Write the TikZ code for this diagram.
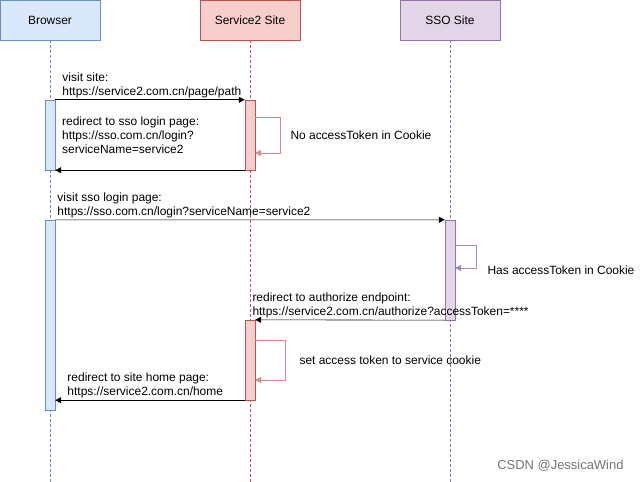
\documentclass[tikz,border=0pt]{standalone}
\usepackage{fontspec}
\setmainfont{Liberation Sans}
\usetikzlibrary{arrows.meta}
\definecolor{bfill}{HTML}{DAE8FC}\definecolor{bdraw}{HTML}{6C8EBF}
\definecolor{rfill}{HTML}{F8CECC}\definecolor{rdraw}{HTML}{B85450}
\definecolor{pfill}{HTML}{E1D5E7}\definecolor{pdraw}{HTML}{9673A6}
\definecolor{rloop}{HTML}{D98A88}\definecolor{ploop}{HTML}{A68BB8}
\begin{document}
\begin{tikzpicture}[x=1bp,y=-1bp,font=\fontsize{12}{14}\selectfont,
 head/.style={draw,minimum width=100bp,minimum height=40bp,inner sep=0},
 bar/.style={draw,minimum width=10bp,inner sep=0},
 life/.style={densely dashed,line width=0.5pt},
 msg/.style={-{Triangle[length=6bp,width=6bp]},line width=0.6pt},
 lbl/.style={align=left,anchor=south west,inner sep=1bp},
 loop/.style={-{Triangle[length=6bp,width=6bp]},line width=1pt}]
\useasboundingbox (0,0) rectangle (641,482);
\node[head,fill=bfill,draw=bdraw] (B) at (50,20) {Browser};
\node[head,fill=rfill,draw=rdraw] (S) at (250,20) {Service2 Site};
\node[head,fill=pfill,draw=pdraw] (O) at (450,20) {SSO Site};
\coordinate (Be) at (50,482); \coordinate (Se) at (250,482); \coordinate (Oe) at (450,482);
\draw[life,draw=bdraw] (B.south) -- (Be);
\draw[life,draw=rdraw] (S.south) -- (Se);
\draw[life,draw=pdraw] (O.south) -- (Oe);
\node[bar,fill=bfill,draw=bdraw,minimum height=70bp] (b1) at (50,135) {};
\node[bar,fill=bfill,draw=bdraw,minimum height=190bp] (b2) at (50,315) {};
\node[bar,fill=rfill,draw=rdraw,minimum height=70bp] (s1) at (250,135) {};
\node[bar,fill=rfill,draw=rdraw,minimum height=80bp] (s2) at (250,360) {};
\node[bar,fill=pfill,draw=pdraw,minimum height=100bp] (o1) at (450,270) {};
% msg 1
\draw[msg] (b1.north east) -- (s1.north west) node[pos=0,lbl,xshift=6bp,yshift=1bp] {visit site:\\https://service2.com.cn/page/path};
% loop 1
\draw[loop,draw=rloop] (255,118) -- (280,118) -- (280,153) -- (255,153);
\node[anchor=west] (t1) at (287,135) {No accessToken in Cookie};
% msg 2
\draw[msg] (s1.south west) -- (b1.south east);
\node[anchor=west,align=left,inner sep=0] (t2) at (62,135) {redirect to sso login page:\\https://sso.com.cn/login?\\serviceName=service2};
% msg 3
\draw[msg] (b2.north east) -- (o1.north west) node[pos=0,lbl,xshift=1bp,yshift=1bp] {visit sso login page:\\https://sso.com.cn/login?serviceName=service2};
% loop 2
\draw[loop,draw=ploop] (455,245) -- (476,245) -- (476,268) -- (455,268);
\node[anchor=west] (t3) at (484,270) {Has accessToken in Cookie};
% msg 4
\draw[msg] (o1.south west) -- (s2.north east) node[pos=1,lbl,xshift=-4bp,yshift=1bp] {redirect to authorize endpoint:\\https://service2.com.cn/authorize?accessToken=****};
% loop 3
\draw[loop,draw=rloop] (255,340) -- (285,340) -- (285,380) -- (255,380);
\node[anchor=west] (t4) at (296,360) {set access token to service cookie};
% msg 5
\draw[msg] (s2.south west) -- (b2.south east|-s2.south west) node[pos=1,lbl,xshift=11bp,yshift=1bp] {redirect to site home page:\\https://service2.com.cn/home};
\node[anchor=south east,text=gray!90!black,font=\fontsize{13}{15}\selectfont] (wm) at (627,475) {CSDN @JessicaWind};
\end{tikzpicture}
\end{document}
